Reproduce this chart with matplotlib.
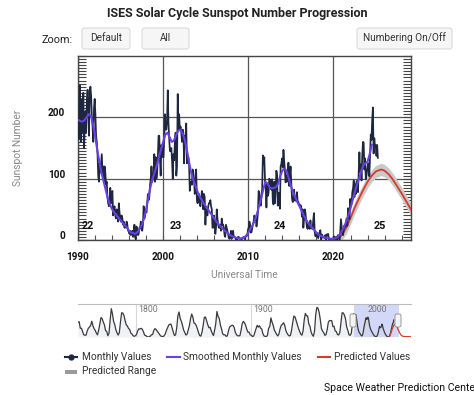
import numpy as np
import matplotlib.pyplot as plt
from matplotlib.patches import FancyBboxPatch, Rectangle
from matplotlib.lines import Line2D
from matplotlib.transforms import ScaledTranslation
from matplotlib.ticker import MultipleLocator

plt.rcParams['font.family'] = ['Roboto', 'DejaVu Sans']

W, H = 474, 395

# monthly sunspot number, Jan 1990 .. Mar 2025
monthly_start = 1990
monthly = [
    195, 165, 252, 190, 160, 230, 175, 240, 150, 185, 210, 175,  # 1990
    230, 245, 215, 170, 240, 250, 235, 200, 185, 160, 215, 230,  # 1991
    205, 170, 160, 140, 105, 95, 125, 110, 125, 140, 110, 120,   # 1992
    95, 120, 110, 90, 95, 70, 60, 55, 60, 85, 60, 75,            # 1993
    80, 40, 50, 55, 40, 35, 50, 45, 30, 60, 45, 35,              # 1994
    30, 40, 35, 25, 30, 20, 25, 20, 30, 25, 15, 15,              # 1995
    10, 15, 8, 10, 15, 5, 12, 25, 4, 1, 22, 12,                  # 1996
    8, 10, 20, 20, 30, 20, 15, 25, 55, 35, 40, 50,               # 1997
    45, 60, 75, 65, 70, 90, 100, 120, 95, 100, 110, 140,         # 1998
    95, 135, 100, 110, 135, 170, 170, 130, 105, 155, 150, 135,   # 1999
    135, 165, 205, 180, 180, 195, 244, 190, 165, 145, 145, 150,  # 2000
    130, 100, 140, 130, 160, 175, 105, 120, 238, 180, 205, 180,  # 2001
    185, 175, 160, 180, 175, 125, 170, 160, 190, 125, 135, 135,  # 2002
    125, 80, 95, 95, 90, 115, 110, 100, 75, 85, 115, 65,         # 2003
    60, 70, 75, 60, 55, 65, 80, 75, 50, 75, 70, 25,              # 2004
    50, 45, 40, 55, 60, 60, 65, 55, 50, 20, 20, 40,              # 2005
    25, 10, 20, 50, 35, 25, 20, 20, 25, 15, 35, 25,              # 2006
    25, 20, 8, 5, 25, 20, 15, 10, 3, 2, 3, 15,                   # 2007
    5, 3, 15, 5, 5, 4, 1, 1, 1, 5, 5, 2,                         # 2008
    2, 2, 1, 2, 4, 5, 4, 1, 7, 7, 7, 17,                         # 2009
    20, 30, 25, 12, 13, 20, 26, 30, 40, 36, 35, 22,              # 2010
    31, 44, 80, 77, 62, 56, 71, 84, 138, 125, 135, 97,           # 2011
    86, 53, 91, 72, 77, 100, 98, 86, 82, 99, 62, 58,             # 2012
    95, 60, 82, 113, 106, 56, 77, 74, 51, 120, 124, 133,         # 2013
    118, 147, 128, 115, 94, 106, 95, 106, 126, 88, 102, 120,     # 2014
    94, 68, 62, 63, 82, 65, 64, 65, 78, 63, 62, 58,              # 2015
    57, 57, 55, 38, 50, 20, 33, 50, 44, 33, 21, 18,              # 2016
    26, 26, 18, 32, 19, 19, 18, 33, 44, 13, 6, 8,                # 2017
    7, 11, 3, 9, 13, 16, 1, 9, 4, 4, 6, 3,                       # 2018
    8, 1, 9, 9, 10, 1, 1, 0.5, 1, 0.5, 0.5, 1.5,                 # 2019
    6, 0.2, 1.5, 5, 0.2, 6, 8, 7.5, 0.6, 14, 34, 22,             # 2020
    10, 8, 17, 24, 21, 25, 35, 23, 52, 38, 34, 67,               # 2021
    55, 60, 78, 84, 97, 70, 91, 75, 96, 96, 78, 113,             # 2022
    143, 111, 123, 97, 137, 160, 159, 115, 133, 99, 105, 115,    # 2023
    124, 125, 104, 136, 172, 163, 196, 216, 141, 166, 152, 155,  # 2024
    137, 155, 134,                                               # 2025
]

# smoothed monthly values, quarterly from 1990.0
smoothed_start = 1990.0
smoothed = [
    196, 194, 193, 195,  200, 205, 203, 190,  170, 148, 128, 110,
    96, 82, 68, 58,  50, 45, 41, 36,  32, 28, 24, 20,
    15, 12, 11, 10,  13, 18, 25, 35,  50, 68, 86, 100,
    110, 122, 135, 148,  160, 172, 175, 168,  160, 162, 170, 178,
    180, 175, 165, 150,  130, 112, 100, 90,  80, 72, 66, 60,
    55, 50, 45, 40,  35, 30, 26, 22,  18, 15, 12, 9,
    7, 5, 4, 3,  2.5, 3, 4, 7,  12, 18, 24, 32,
    42, 55, 68, 82,  95, 92, 86, 84,  85, 86, 92, 105,
    113, 117, 112, 100,  88, 78, 70, 62,  55, 48, 40, 34,
    28, 24, 20, 16,  12, 9, 7, 5,  4, 3, 2.5, 2,
    2, 3, 5, 9,  15, 22, 30, 40,  52, 65, 78, 90,
    100, 112, 122, 125,  128, 140, 155,
]

# cycle 25 prediction and its range
pred_years = [2020.2, 2020.6, 2021.0, 2021.5, 2022.0, 2022.5, 2023.0, 2023.5,
              2024.0, 2024.5, 2025.0, 2025.6, 2026.0, 2026.5, 2027.0, 2027.5,
              2028.0, 2028.5, 2029.0, 2029.5, 2030.0, 2030.5, 2031.0, 2032.0,
              2034.0, 2037.0, 2040.0]
pred_vals = [0, 3, 8, 20, 36, 53, 68, 82, 95, 105, 112, 115, 113, 107, 98, 87,
             76, 64, 52, 41, 31, 23, 16, 8, 4, 3, 3]
pred_high = [4, 10, 17, 30, 46, 63, 78, 92, 105, 115, 122, 125, 123, 117, 108,
             97, 86, 74, 62, 51, 41, 33, 26, 16, 10, 8, 8]
pred_low = [0, 0, 0, 10, 26, 43, 58, 72, 85, 95, 102, 105, 103, 97, 88, 77,
            66, 54, 42, 31, 21, 13, 6, 0, 0, 0, 0]

cycle_labels = ['22', '23', '24', '25']
cycle_pos = [1991.2, 2001.5, 2013.7, 2025.4]

# yearly means 1749 .. 1989 for the navigator strip
hist_start = 1749
hist = [
    134.7, 139.0, 79.5, 79.7, 51.2, 20.3, 16.0, 17.0, 54.0, 79.3,
    90.0, 104.8, 143.2, 102.0, 75.2, 60.7, 34.8, 19.0, 63.0, 116.3,
    176.8, 168.0, 136.0, 110.8, 58.0, 51.0, 11.7, 33.0, 154.2, 257.3,
    209.8, 141.3, 113.5, 64.2, 38.0, 17.0, 40.2, 138.2, 220.0, 218.2,
    196.8, 149.8, 111.0, 100.0, 78.2, 68.3, 35.5, 26.7, 10.7, 6.8,
    11.3, 24.2, 56.7, 75.0, 71.8, 79.2, 70.3, 46.8, 16.8, 13.5,
    4.2, 0.0, 2.3, 8.3, 20.3, 23.2, 59.0, 76.3, 68.3, 52.9,
    38.5, 24.2, 9.2, 6.3, 2.2, 11.4, 28.2, 59.9, 83.0, 108.5,
    115.2, 117.4, 80.8, 44.3, 13.4, 19.5, 85.8, 192.7, 227.3, 168.7,
    143.0, 105.5, 63.3, 40.3, 18.1, 25.1, 65.8, 102.7, 166.3, 208.3,
    182.5, 126.3, 122.0, 102.7, 74.1, 39.0, 12.7, 8.2, 43.4, 104.4,
    178.3, 182.2, 146.6, 112.1, 83.5, 89.2, 57.8, 30.7, 13.9, 62.8,
    123.6, 232.0, 185.3, 169.2, 110.1, 74.5, 28.3, 18.9, 20.7, 5.7,
    10.0, 53.7, 90.5, 99.0, 106.1, 105.8, 86.3, 42.4, 21.8, 11.2,
    10.4, 11.8, 59.5, 121.7, 142.0, 130.0, 106.6, 69.4, 43.8, 44.4,
    20.2, 15.7, 4.6, 8.5, 40.8, 70.1, 105.5, 90.1, 102.8, 80.9,
    73.2, 30.9, 9.5, 6.0, 2.4, 16.1, 79.0, 95.0, 173.6, 134.6,
    105.7, 62.7, 43.5, 23.7, 9.7, 27.9, 74.0, 106.5, 114.7, 129.7,
    108.2, 59.4, 35.1, 18.6, 9.2, 14.6, 60.2, 132.8, 190.6, 182.6,
    148.0, 113.0, 79.2, 50.8, 27.1, 16.1, 55.3, 154.3, 214.7, 193.0,
    190.7, 118.9, 98.3, 45.0, 20.1, 6.6, 54.2, 200.7, 269.3, 261.7,
    225.1, 159.0, 76.4, 53.4, 39.9, 15.0, 22.0, 66.8, 132.9, 150.0,
    149.4, 148.0, 94.4, 97.6, 54.1, 49.2, 22.5, 18.4, 39.3, 131.0,
    220.1, 218.9, 198.9, 162.4, 91.0, 60.5, 20.6, 14.8, 33.9, 123.0,
    211.1,
]

NAVY = '#1d2840'
PURPLE = '#6a3fe6'
RED = '#d63a28'
BAND = '#c9c9c9'


def fx(p):
    return p / W


def fy(p):
    return 1 - p / H


fig = plt.figure(figsize=(W / 100, H / 100), dpi=100)

# ---- main chart ----
ax = fig.add_axes([fx(78), fy(240), 333 / W, 184 / H])

m_x = monthly_start + (np.arange(len(monthly)) + 0.5) / 12
s_x = smoothed_start + np.arange(len(smoothed)) * 0.25

ax.fill_between(pred_years, pred_low, pred_high, color=BAND, lw=0, zorder=2)
ax.plot(pred_years, pred_vals, color=RED, lw=1.3, zorder=3)
ax.plot(m_x, monthly, color=NAVY, lw=1.25, zorder=4)
ax.plot(s_x, smoothed, color=PURPLE, lw=1.5, zorder=5)

for lab, xp in zip(cycle_labels, cycle_pos):
    ax.text(xp, 23, lab, ha='center', va='center', fontsize=7.8,
            fontweight='bold', color='#111', zorder=6)

ax.set_xlim(1990, 2029.1)
ax.set_ylim(0, 300)
ax.set_xticks([1990, 2000, 2010, 2020])
ax.set_yticks([0, 100, 200])
ax.xaxis.set_minor_locator(MultipleLocator(2))
ax.yaxis.set_minor_locator(MultipleLocator(5))
ax.grid(which='major', color='#555', lw=0.9)
ax.set_axisbelow(True)
ax.tick_params(axis='y', which='both', direction='in', length=5.8, width=0.8,
               left=True, right=True, color='#444', pad=9.4, labelsize=7.2)
ax.tick_params(axis='x', which='both', direction='in', length=3.6, width=0.8,
               color='#555', pad=9, labelsize=7.2)
for lab in ax.get_xticklabels() + ax.get_yticklabels():
    lab.set_fontweight('bold')
    lab.set_color('#111')
for lab in ax.get_yticklabels():
    lab.set_transform(lab.get_transform() +
                      ScaledTranslation(0, 5 / 100, fig.dpi_scale_trans))
for s in ax.spines.values():
    s.set_color('#444')
    s.set_linewidth(1)

# ---- navigator ----
nav = fig.add_axes([fx(78), fy(337), 333 / W, 33 / H])
h_x = hist_start + np.arange(len(hist)) + 0.5
nav_x = np.concatenate([h_x, s_x])
nav_y = np.concatenate([hist, smoothed])
nav.fill_between(nav_x, 0, nav_y, color='#eff1f5', lw=0, zorder=0)
nav.axvspan(1990, 2029.2, color='#c9cef7', alpha=0.8, lw=0, zorder=1)
for yr in [1800, 1900, 2000]:
    nav.axvline(yr, color='#d8d8d8', lw=0.8, zorder=1)
    nav.text(yr + 2, 292, str(yr), fontsize=6.3, color='#777', va='top',
             ha='left', zorder=2)
nav.plot(nav_x, nav_y, color='#3a3a3a', lw=0.9, zorder=3)
nav.plot(pred_years, pred_vals, color=RED, lw=0.9, zorder=3)
nav.set_xlim(1749.5, 2039.5)
nav.set_ylim(0, 300)
nav.set_xticks([])
nav.set_yticks([])
for k in ['left', 'right', 'bottom']:
    nav.spines[k].set_visible(False)
nav.spines['top'].set_color('#bbbbbb')
nav.spines['top'].set_linewidth(0.8)

for hx in [353, 398]:
    fig.add_artist(FancyBboxPatch((fx(hx - 3), fy(327)), 6 / W, 13 / H,
                                  boxstyle='round,pad=0,rounding_size=0.004',
                                  transform=fig.transFigure, fc='#f4f4f4',
                                  ec='#999999', lw=0.7))

# ---- title, buttons, axis titles ----
fig.text(fx(237), fy(13), 'ISES Solar Cycle Sunspot Number Progression',
         ha='center', va='center', fontsize=9, fontweight='bold', color='#222')
fig.text(fx(42), fy(40), 'Zoom:', ha='left', va='center', fontsize=7.8,
         color='#222')
buttons = [('Default', 82, 130), ('All', 142, 189), ('Numbering On/Off', 357, 452)]
for txt, x0, x1 in buttons:
    fig.add_artist(FancyBboxPatch((fx(x0), fy(49)), (x1 - x0) / W, 21 / H,
                                  boxstyle='round,pad=0,rounding_size=0.006',
                                  transform=fig.transFigure, fc='#f6f6f6',
                                  ec='#dadada', lw=0.8))
    fig.text(fx((x0 + x1) / 2), fy(38), txt, ha='center', va='center',
             fontsize=7.2, color='#333')

fig.text(fx(18), fy(148), 'Sunspot Number', rotation=90, ha='center',
         va='center', fontsize=7.3, color='#888')
fig.text(fx(244), fy(275), 'Universal Time', ha='center', va='center',
         fontsize=7.3, color='#888')

# ---- legend ----
fig.add_artist(Line2D([fx(65), fx(77)], [fy(357)] * 2, color=NAVY, lw=1.5))
fig.add_artist(Line2D([fx(71)], [fy(357)], color=NAVY, marker='o', ms=3.5))
fig.add_artist(Line2D([fx(167), fx(180)], [fy(357)] * 2, color=PURPLE, lw=1.5))
fig.add_artist(Line2D([fx(318), fx(330)], [fy(357)] * 2, color=RED, lw=1.5))
fig.add_artist(Rectangle((fx(65), fy(373.5)), 12 / W, 4 / H,
                         transform=fig.transFigure, color='#9a9a9a', lw=0))
legend_items = [('Monthly Values', 82, 357), ('Smoothed Monthly Values', 183, 357),
                ('Predicted Values', 334, 357), ('Predicted Range', 82, 371)]
for txt, x0, y0 in legend_items:
    fig.text(fx(x0), fy(y0), txt, ha='left', va='center', fontsize=7.3,
             color='#333')

fig.text(fx(324), fy(388), 'Space Weather Prediction Center', ha='left',
         va='center', fontsize=7.6, color='#111')

fig.savefig('out.png', dpi=100)
